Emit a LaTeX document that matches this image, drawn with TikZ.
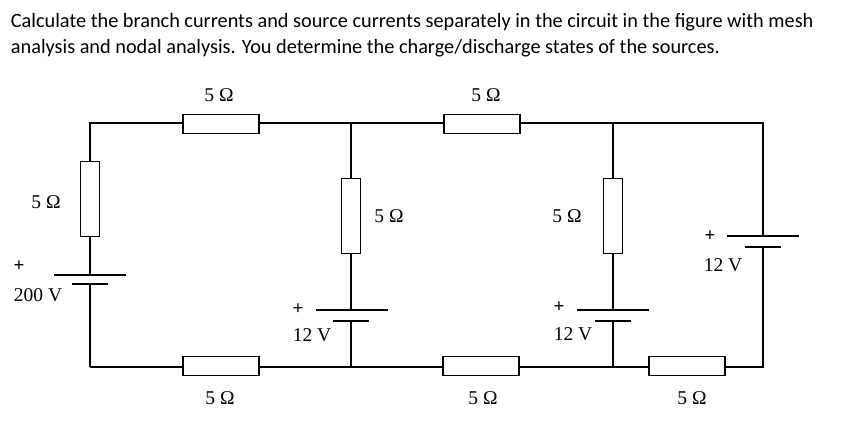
\documentclass[tikz,border=0pt]{standalone}
\usepackage{fontspec}
\setmainfont{Liberation Serif}
\newfontfamily\titlefont{Carlito}
\begin{document}
\begin{tikzpicture}[x=1pt,y=-1pt,line width=1.8pt,
  res/.style={draw,fill=white,minimum width=76pt,minimum height=19pt,inner sep=0pt,line width=1.8pt},
  vres/.style={draw,fill=white,minimum width=19pt,minimum height=75pt,inner sep=0pt,line width=1.8pt},
  lbl/.style={font=\fontsize{19.5}{22}\selectfont,inner sep=0pt},
  pls/.style={font=\bfseries\fontsize{19}{22}\selectfont,inner sep=0pt},
  ttl/.style={font=\titlefont\fontsize{20.3}{23}\selectfont,anchor=west,inner sep=0pt}]
\useasboundingbox (0,0) rectangle (851,422);
\node[ttl] (t1) at (10,22) {Calculate the branch currents and source currents separately in the circuit in the figure with mesh};
\node[ttl] (t2) at (10,48) {analysis and nodal analysis. You determine the charge/discharge states of the sources.};
% corners
\coordinate (tl) at (90,123); \coordinate (bl) at (90,367);
\coordinate (tm) at (351,123); \coordinate (bm) at (351,367);
\coordinate (tn) at (613,123); \coordinate (bn) at (613,367);
\coordinate (tr) at (763,123); \coordinate (br) at (763,367);
% batteries plates
\coordinate (b1p) at (90,275); \coordinate (b1n) at (90,284);
\coordinate (b2p) at (351,310); \coordinate (b2n) at (351,321);
\coordinate (b3p) at (613,310); \coordinate (b3n) at (613,321);
\coordinate (b4p) at (763,236); \coordinate (b4n) at (763,247);
% wires
\draw (bl) -- (b1n); \draw (b1p) -- (tl) -- (tr) -- (b4p);
\draw (b4n) -- (br) -- (bl);
\draw (tm) -- (b2p); \draw (b2n) -- (bm);
\draw (tn) -- (b3p); \draw (b3n) -- (bn);
% plates
\draw (54,275) -- (126,275); \draw (72,284) -- (108,284);
\draw (316,310) -- (388,310); \draw (333,321) -- (369,321);
\draw (577,310) -- (649,310); \draw (595,321) -- (631,321);
\draw (727,236) -- (799,236); \draw (745,247) -- (781,247);
% resistors
\node[res] (r1) at (221,124) {}; \node[res] (r2) at (482,124) {};
\node[res] (r3) at (221,366) {}; \node[res] (r4) at (481,366) {};
\node[res] (r5) at (687,366) {};
\node[vres] (r6) at (90,199) {}; \node[vres] (r7) at (351,216) {};
\node[vres] (r8) at (613,216) {};
% labels
\node[lbl] (l1) at (219,95) {5 Ω};
\node[lbl] (l2) at (486,95) {5 Ω};
\node[lbl] (l3) at (220,398) {5 Ω};
\node[lbl] (l4) at (483,398) {5 Ω};
\node[lbl] (l5) at (692,398) {5 Ω};
\node[lbl] (l6) at (46,202) {5 Ω};
\node[lbl] (l7) at (389,216) {5 Ω};
\node[lbl] (l8) at (567,216) {5 Ω};
\node[pls] (p1) at (19,266) {+};
\node[lbl] (v1) at (38,295) {200 V};
\node[pls] (p2) at (298,309) {+};
\node[lbl] (v2) at (312,335) {12 V};
\node[pls] (p3) at (559,307) {+};
\node[lbl] (v3) at (573,334) {12 V};
\node[pls] (p4) at (710,236) {+};
\node[lbl] (v4) at (723,265) {12 V};
\end{tikzpicture}
\end{document}
